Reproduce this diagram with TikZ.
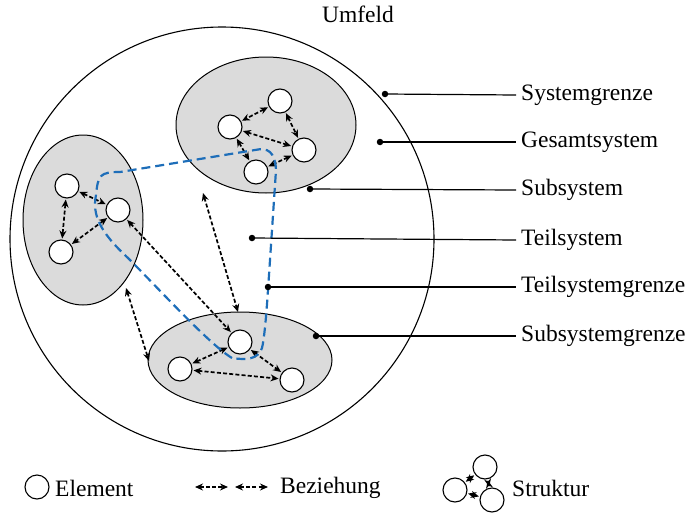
\documentclass[tikz,border=0pt]{standalone}
\usepackage{fontspec}
\setmainfont{Liberation Serif}
\usetikzlibrary{arrows.meta}
\begin{document}
\begin{tikzpicture}[x=1pt,y=-1pt,
  el/.style={circle,draw,fill=white,minimum size=24pt,inner sep=0pt,line width=1.1pt},
  rel/.style={dash pattern=on 4pt off 2.2pt,line width=1.7pt,{Stealth[length=8pt,width=7pt]}-{Stealth[length=8pt,width=7pt]},shorten <=1pt,shorten >=1pt},
  sub/.style={draw,fill=gray!28,line width=1pt},
  lbl/.style={font=\fontsize{23.5}{26}\selectfont,anchor=west,inner sep=0pt},
  dot/.style={circle,fill,inner sep=0pt,minimum size=6.5pt},
  lead/.style={line width=1.2pt}]
\useasboundingbox (0,0) rectangle (685,514);
\draw[line width=1.1pt] (222,239) circle[radius=212];
\node[font=\fontsize{23.5}{26}\selectfont] (umf) at (358,14) {Umfeld};
\draw[sub] (266,125) ellipse[x radius=90,y radius=68];
\draw[sub] (83,220) ellipse[x radius=60,y radius=85];
\draw[sub] (240,360) ellipse[x radius=92,y radius=48];
% nodes
\node[el] (A) at (280,101) {};
\node[el] (B) at (230,127) {};
\node[el] (C) at (304,150) {};
\node[el] (D) at (256,172) {};
\node[el] (E) at (67,186) {};
\node[el] (F) at (118,210) {};
\node[el] (G) at (61,252) {};
\node[el] (H) at (240,342) {};
\node[el] (I) at (180,369) {};
\node[el] (J) at (292,380) {};
\draw[rel] (A)--(B); \draw[rel] (A)--(C); \draw[rel] (B)--(C); \draw[rel] (B)--(D); \draw[rel] (D)--(C);
\draw[rel] (E)--(F); \draw[rel] (E)--(G); \draw[rel] (F)--(G);
\draw[rel] (H)--(I); \draw[rel] (H)--(J); \draw[rel] (I)--(J);
\draw[rel] (F)--(H);
\coordinate (t1) at (203,193); \coordinate (b1) at (238,312);
\coordinate (l1) at (126,288); \coordinate (b2) at (149,361);
\draw[rel,shorten <=0pt,shorten >=0pt] (t1)--(b1);
\draw[rel,shorten <=0pt,shorten >=0pt] (l1)--(b2);
% blue boundary
\draw[line width=2.2pt,color={rgb,255:red,30;green,110;blue,185},dash pattern=on 9pt off 5pt]
 (232,358) .. controls (210,345) and (160,290) .. (128,258)
 .. controls (100,232) and (92,215) .. (96,195)
 .. controls (98,175) and (100,172) .. (120,172)
 -- (255,150) .. controls (268,147) and (275,152) .. (276,170)
 -- (268,290) .. controls (266,320) and (264,340) .. (262,348)
 .. controls (258,360) and (245,360) .. cycle;
% labels
\node[dot] (d1) at (385,94) {};   \node[lbl] (s1) at (521,95) {Systemgrenze};
\node[dot] (d2) at (380,142) {};  \node[lbl] (s2) at (521,142) {Gesamtsystem};
\node[dot] (d3) at (310,189) {};  \node[lbl] (s3) at (521,190) {Subsystem};
\node[dot] (d4) at (252,238) {};  \node[lbl] (s4) at (521,240) {Teilsystem};
\node[dot] (d5) at (268,287) {};  \node[lbl] (s5) at (521,287) {Teilsystemgrenze};
\node[dot] (d6) at (316,336) {};  \node[lbl] (s6) at (521,336) {Subsystemgrenze};
\foreach \i in {1,...,6} \draw[lead] (d\i.center) -- ([xshift=-5pt]s\i.west);
% legend
\node[el] (L1) at (37,487) {};
\node[lbl] (le) at (55,488) {Element};
\coordinate (a1) at (195,487); \coordinate (a2) at (228,487);
\coordinate (a3) at (235,487); \coordinate (a4) at (268,487);
\draw[rel,shorten <=0pt,shorten >=0pt] (a1)--(a2);
\draw[rel,shorten <=0pt,shorten >=0pt] (a3)--(a4);
\node[lbl] (lb) at (280,488) {Beziehung};
\node[el] (S1) at (455,490) {};
\node[el] (S2) at (485,467) {};
\node[el] (S3) at (492,500) {};
\draw[rel] (S1)--(S2); \draw[rel] (S2)--(S3); \draw[rel] (S1)--(S3);
\node[lbl] (ls) at (512,488) {Struktur};
\end{tikzpicture}
\end{document}
